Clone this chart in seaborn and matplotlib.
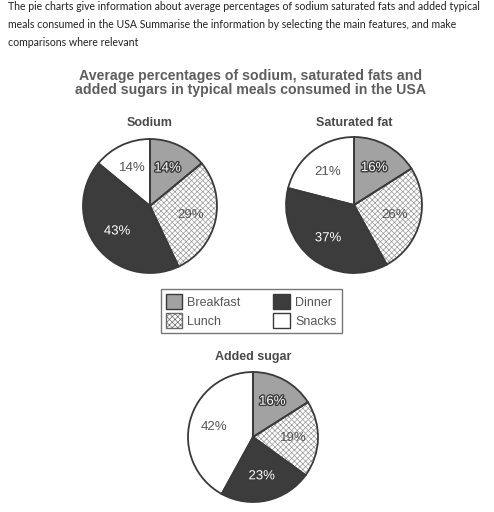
import numpy as np
import seaborn as sns
import matplotlib.pyplot as plt
import matplotlib.patheffects as pe
from matplotlib.patches import Patch

# meals and shares (%) for each nutrient
meals = ["Breakfast", "Lunch", "Dinner", "Snacks"]
sodium = [14, 29, 43, 14]
saturated_fat = [16, 26, 37, 21]
added_sugar = [16, 19, 23, 42]

intro = [
    "The pie charts give information about average percentages of sodium saturated fats and added typical",
    "meals consumed in the USA Summarise the information by selecting the main features, and make",
    "comparisons where relevant",
]
title = "Average percentages of sodium, saturated fats and\nadded sugars in typical meals consumed in the USA"

sns.set_theme(style="white")
plt.rcParams["font.family"] = ["Liberation Sans", "DejaVu Sans"]
plt.rcParams["hatch.linewidth"] = 0.5

W, H = 494, 512
fill = {"Breakfast": "#a2a2a2", "Lunch": "white", "Dinner": "#3c3c3c", "Snacks": "white"}
hatch = {"Breakfast": None, "Lunch": "xxxxxx", "Dinner": None, "Snacks": None}
dark_label = {"Breakfast": True, "Lunch": False, "Dinner": True, "Snacks": False}
edge = "#3a3a3a"

fig = plt.figure(figsize=(W / 100, H / 100), dpi=100)
fig.patch.set_facecolor("white")


def pie(values, name, cx, cy, r, ty):
    pad = 1.06
    ax = fig.add_axes([(cx - r * pad) / W, 1 - (cy + r * pad) / H,
                       2 * r * pad / W, 2 * r * pad / H])
    # fill + hatch (hatch takes the edge colour, so a light one here)
    wedges, _ = ax.pie(values, startangle=90, counterclock=False,
                       colors=[fill[m] for m in meals],
                       wedgeprops=dict(edgecolor="#999999", linewidth=0))
    for w, m in zip(wedges, meals):
        if hatch[m]:
            w.set_hatch(hatch[m])
    # outlines on top
    ax.pie(values, startangle=90, counterclock=False,
           colors=["none"] * len(values),
           wedgeprops=dict(edgecolor=edge, linewidth=1.3, fill=False))
    # percentage labels
    ang = 90 - (np.cumsum(values) - np.array(values) / 2) / sum(values) * 360
    for a, v, m in zip(ang, values, meals):
        x, y = 0.62 * np.cos(np.radians(a)), 0.62 * np.sin(np.radians(a))
        if dark_label[m]:
            ax.text(x, y, f"{v}%", ha="center", va="center", fontsize=9.5,
                    color="white",
                    path_effects=[pe.withStroke(linewidth=2.0, foreground="#3a3a3a")])
        else:
            ax.text(x, y, f"{v}%", ha="center", va="center", fontsize=9.5,
                    color="#555555")
    ax.set_xlim(-pad, pad)
    ax.set_ylim(-pad, pad)
    ax.set_aspect("equal")
    ax.axis("off")
    fig.text(cx / W, 1 - ty / H, name, ha="center", va="center",
             fontsize=9, fontweight="bold", color="#4a4a4a")


for i, line in enumerate(intro):
    fig.text(8 / W, 1 - (7 + 17.5 * i) / H, line, ha="left", va="center",
             fontsize=7.6, color="#222222", family=["Lato", "DejaVu Sans"])

fig.text(251 / W, 1 - 83 / H, title, ha="center", va="center",
         fontsize=10.2, fontweight="bold", color="#5e5e5e", linespacing=1.05)

pie(sodium, "Sodium", 150, 206, 67, 123)
pie(saturated_fat, "Saturated fat", 354, 205, 68, 123)
pie(added_sugar, "Added sugar", 253, 437, 65, 357)

handles = [Patch(facecolor=fill[m], edgecolor=edge, hatch=hatch[m], linewidth=1.0)
           for m in meals]
for h, m in zip(handles, meals):
    if hatch[m]:
        h.set_edgecolor("#6a6a6a")
leg = fig.legend(handles, meals, ncol=2, loc="center",
                 bbox_to_anchor=(251 / W, 1 - 311 / H), fontsize=9,
                 frameon=True, fancybox=False, edgecolor="#555555",
                 handlelength=1.35, handleheight=1.4, handletextpad=0.4,
                 columnspacing=2.6, borderpad=0.4, labelspacing=0.35,
                 labelcolor="#555555")
leg.get_frame().set_linewidth(1.0)

fig.savefig("out.png", dpi=100, facecolor="white")
